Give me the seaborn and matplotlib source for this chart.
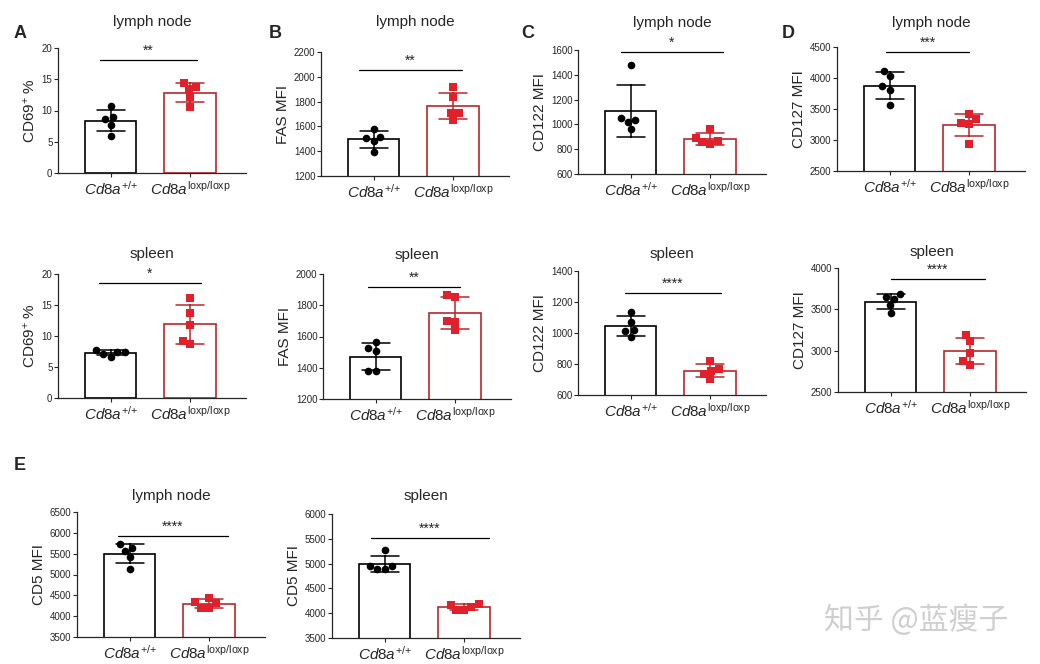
import pandas as pd
import matplotlib
matplotlib.use("Agg")
import matplotlib.pyplot as plt
import seaborn as sns

# genotype groups and x tick labels
groups = ["WT", "KO"]
xticklabels = [r"$\mathit{Cd8a}^{\mathrm{{+}{/}{+}}}$", r"$\mathit{Cd8a}^{\mathrm{loxp/loxp}}$"]

# per-mouse values
cd69_ln_wt = [10.7, 9.0, 8.6, 7.7, 5.95]
cd69_ln_ko = [14.4, 13.7, 13.4, 12.2, 10.6]
fas_ln_wt = [1583, 1508, 1518, 1483, 1392]
fas_ln_ko = [1916, 1835, 1712, 1710, 1650]
cd122_ln_wt = [1479, 1049, 1017, 1036, 960]
cd122_ln_ko = [965, 870, 890, 845, 855]
cd127_ln_wt = [4114, 4029, 3867, 3814, 3562]
cd127_ln_ko = [3417, 3331, 3267, 3256, 2934]

cd69_sp_wt = [7.74, 7.42, 6.67, 7.1, 7.42]
cd69_sp_ko = [16.2, 13.7, 11.8, 8.76, 9.14]
fas_sp_wt = [1565, 1526, 1505, 1377, 1377]
fas_sp_ko = [1851, 1863, 1697, 1693, 1644]
cd122_sp_wt = [1138, 1074, 1020, 1014, 977]
cd122_sp_ko = [817, 770, 756, 735, 705]
cd127_sp_wt = [3690, 3629, 3645, 3548, 3456]
cd127_sp_ko = [3194, 3113, 2968, 2871, 2831]

cd5_ln_wt = [5728, 5647, 5574, 5430, 5141]
cd5_ln_ko = [4441, 4320, 4336, 4208, 4208]
cd5_sp_wt = [5272, 4949, 4956, 4882, 4882]
cd5_sp_ko = [4174, 4127, 4181, 4060, 4060]

# significance labels
stars = ["**", "**", "*", "***", "*", "**", "****", "****", "****", "****"]

BLACK = "black"
RED_EDGE = "#b8282e"
RED_PT = "#e0202a"

sns.set_style("ticks")
plt.rcParams["font.family"] = ["Liberation Sans", "DejaVu Sans"]
plt.rcParams["mathtext.fontset"] = "custom"
plt.rcParams["mathtext.rm"] = "Liberation Sans"
plt.rcParams["mathtext.it"] = "Liberation Sans:italic"

W, H = 1040, 664
fig = plt.figure(figsize=(W / 100, H / 100), dpi=100)

# panel layout: (left px, top px, bottom px, ylim, ytick step, ylabel, title, title y px,
#                wt, ko, sig y, sig x0, sig x1, letter)
panels = [
    (58, 48, 173, (0, 20), 5, r"CD69$^{+}$ %", "lymph node", 22, cd69_ln_wt, cd69_ln_ko, 18.1, -0.13, 1.08, "A"),
    (321, 52, 176, (1200, 2200), 200, "FAS MFI", "lymph node", 22, fas_ln_wt, fas_ln_ko, 2055, -0.18, 1.11, "B"),
    (578, 50, 174, (600, 1600), 200, "CD122 MFI", "lymph node", 23, cd122_ln_wt, cd122_ln_ko, 1584, -0.12, 1.16, "C"),
    (837, 47, 171, (2500, 4500), 500, "CD127 MFI", "lymph node", 23, cd127_ln_wt, cd127_ln_ko, 4419, -0.05, 1.0, "D"),
    (58, 274, 398, (0, 20), 5, r"CD69$^{+}$ %", "spleen", 254, cd69_sp_wt, cd69_sp_ko, 18.5, -0.15, 1.13, None),
    (323, 274, 399, (1200, 2000), 200, "FAS MFI", "spleen", 255, fas_sp_wt, fas_sp_ko, 1917, -0.09, 1.06, None),
    (578, 271, 395, (600, 1400), 200, "CD122 MFI", "spleen", 254, cd122_sp_wt, cd122_sp_ko, 1258, -0.07, 1.13, None),
    (838, 268, 392, (2500, 4000), 500, "CD127 MFI", "spleen", 252, cd127_sp_wt, cd127_sp_ko, 3867, 0.0, 1.19, None),
    (77, 512, 637, (3500, 6500), 500, "CD5 MFI", "lymph node", 496, cd5_ln_wt, cd5_ln_ko, 5924, -0.14, 1.23, "E"),
    (332, 514, 638, (3500, 6000), 500, "CD5 MFI", "spleen", 496, cd5_sp_wt, cd5_sp_ko, 5516, -0.17, 1.31, None),
]

letter_pos = {"A": (20, 34), "B": (275, 33), "C": (528, 33), "D": (788, 33), "E": (20, 465)}

XLIM = (-0.66, 1.70)
WIDTH_PX = 188

for i, (lpx, tpx, bpx, ylim, step, ylabel, title, ty, wt, ko, sy, sx0, sx1, letter) in enumerate(panels):
    ax = fig.add_axes([lpx / W, 1 - bpx / H, WIDTH_PX / W, (bpx - tpx) / H])
    df = pd.DataFrame({
        "group": ["WT"] * len(wt) + ["KO"] * len(ko),
        "value": list(wt) + list(ko),
    })
    sns.barplot(data=df, x="group", y="value", hue="group", order=groups,
                palette={"WT": BLACK, "KO": RED_EDGE}, fill=False, saturation=1,
                errorbar="sd", capsize=0.35, width=0.65, linewidth=1.2,
                err_kws={"linewidth": 1.1}, legend=False, ax=ax)
    sns.swarmplot(data=df[df["group"] == "WT"], x="group", y="value", order=groups,
                  color=BLACK, marker="o", size=5.5, linewidth=0, ax=ax)
    sns.swarmplot(data=df[df["group"] == "KO"], x="group", y="value", order=groups,
                  color=RED_PT, marker="s", size=5.5, linewidth=0, ax=ax)

    ax.set_xlim(*XLIM)
    ax.set_ylim(*ylim)
    ax.set_yticks(range(ylim[0], ylim[1] + 1, step))
    ax.set_xticks([0, 1])
    ax.set_xticklabels(xticklabels, fontsize=11)
    ax.tick_params(axis="y", labelsize=7, length=3, width=0.8, pad=1)
    ax.tick_params(axis="x", length=3, width=0.8, pad=2)
    ax.set_xlabel("")
    ax.set_ylabel(ylabel, fontsize=11, labelpad=3)
    for s in ["left", "bottom"]:
        ax.spines[s].set_linewidth(0.9)
    sns.despine(ax=ax)

    # significance bar
    ax.plot([sx0, sx1], [sy, sy], color="black", lw=0.9, clip_on=False)
    ax.annotate(stars[i], xy=((sx0 + sx1) / 2, sy), xytext=(0, 1.5), textcoords="offset points",
                ha="center", va="bottom", fontsize=10, annotation_clip=False)

    fig.text((lpx + WIDTH_PX / 2) / W, 1 - ty / H, title, ha="center", va="center", fontsize=11)
    if letter:
        lx, ly = letter_pos[letter]
        fig.text(lx / W, 1 - ly / H, letter, ha="center", va="center", fontsize=13, fontweight="bold")

# watermark
fig.text(916 / W, 1 - 620 / H, "知乎 @蓝瘦子", ha="center", va="center", fontsize=21.5,
         color="#cfcfcf", family=["Noto Sans CJK SC", "DejaVu Sans"])

fig.savefig("out.png", dpi=100)
